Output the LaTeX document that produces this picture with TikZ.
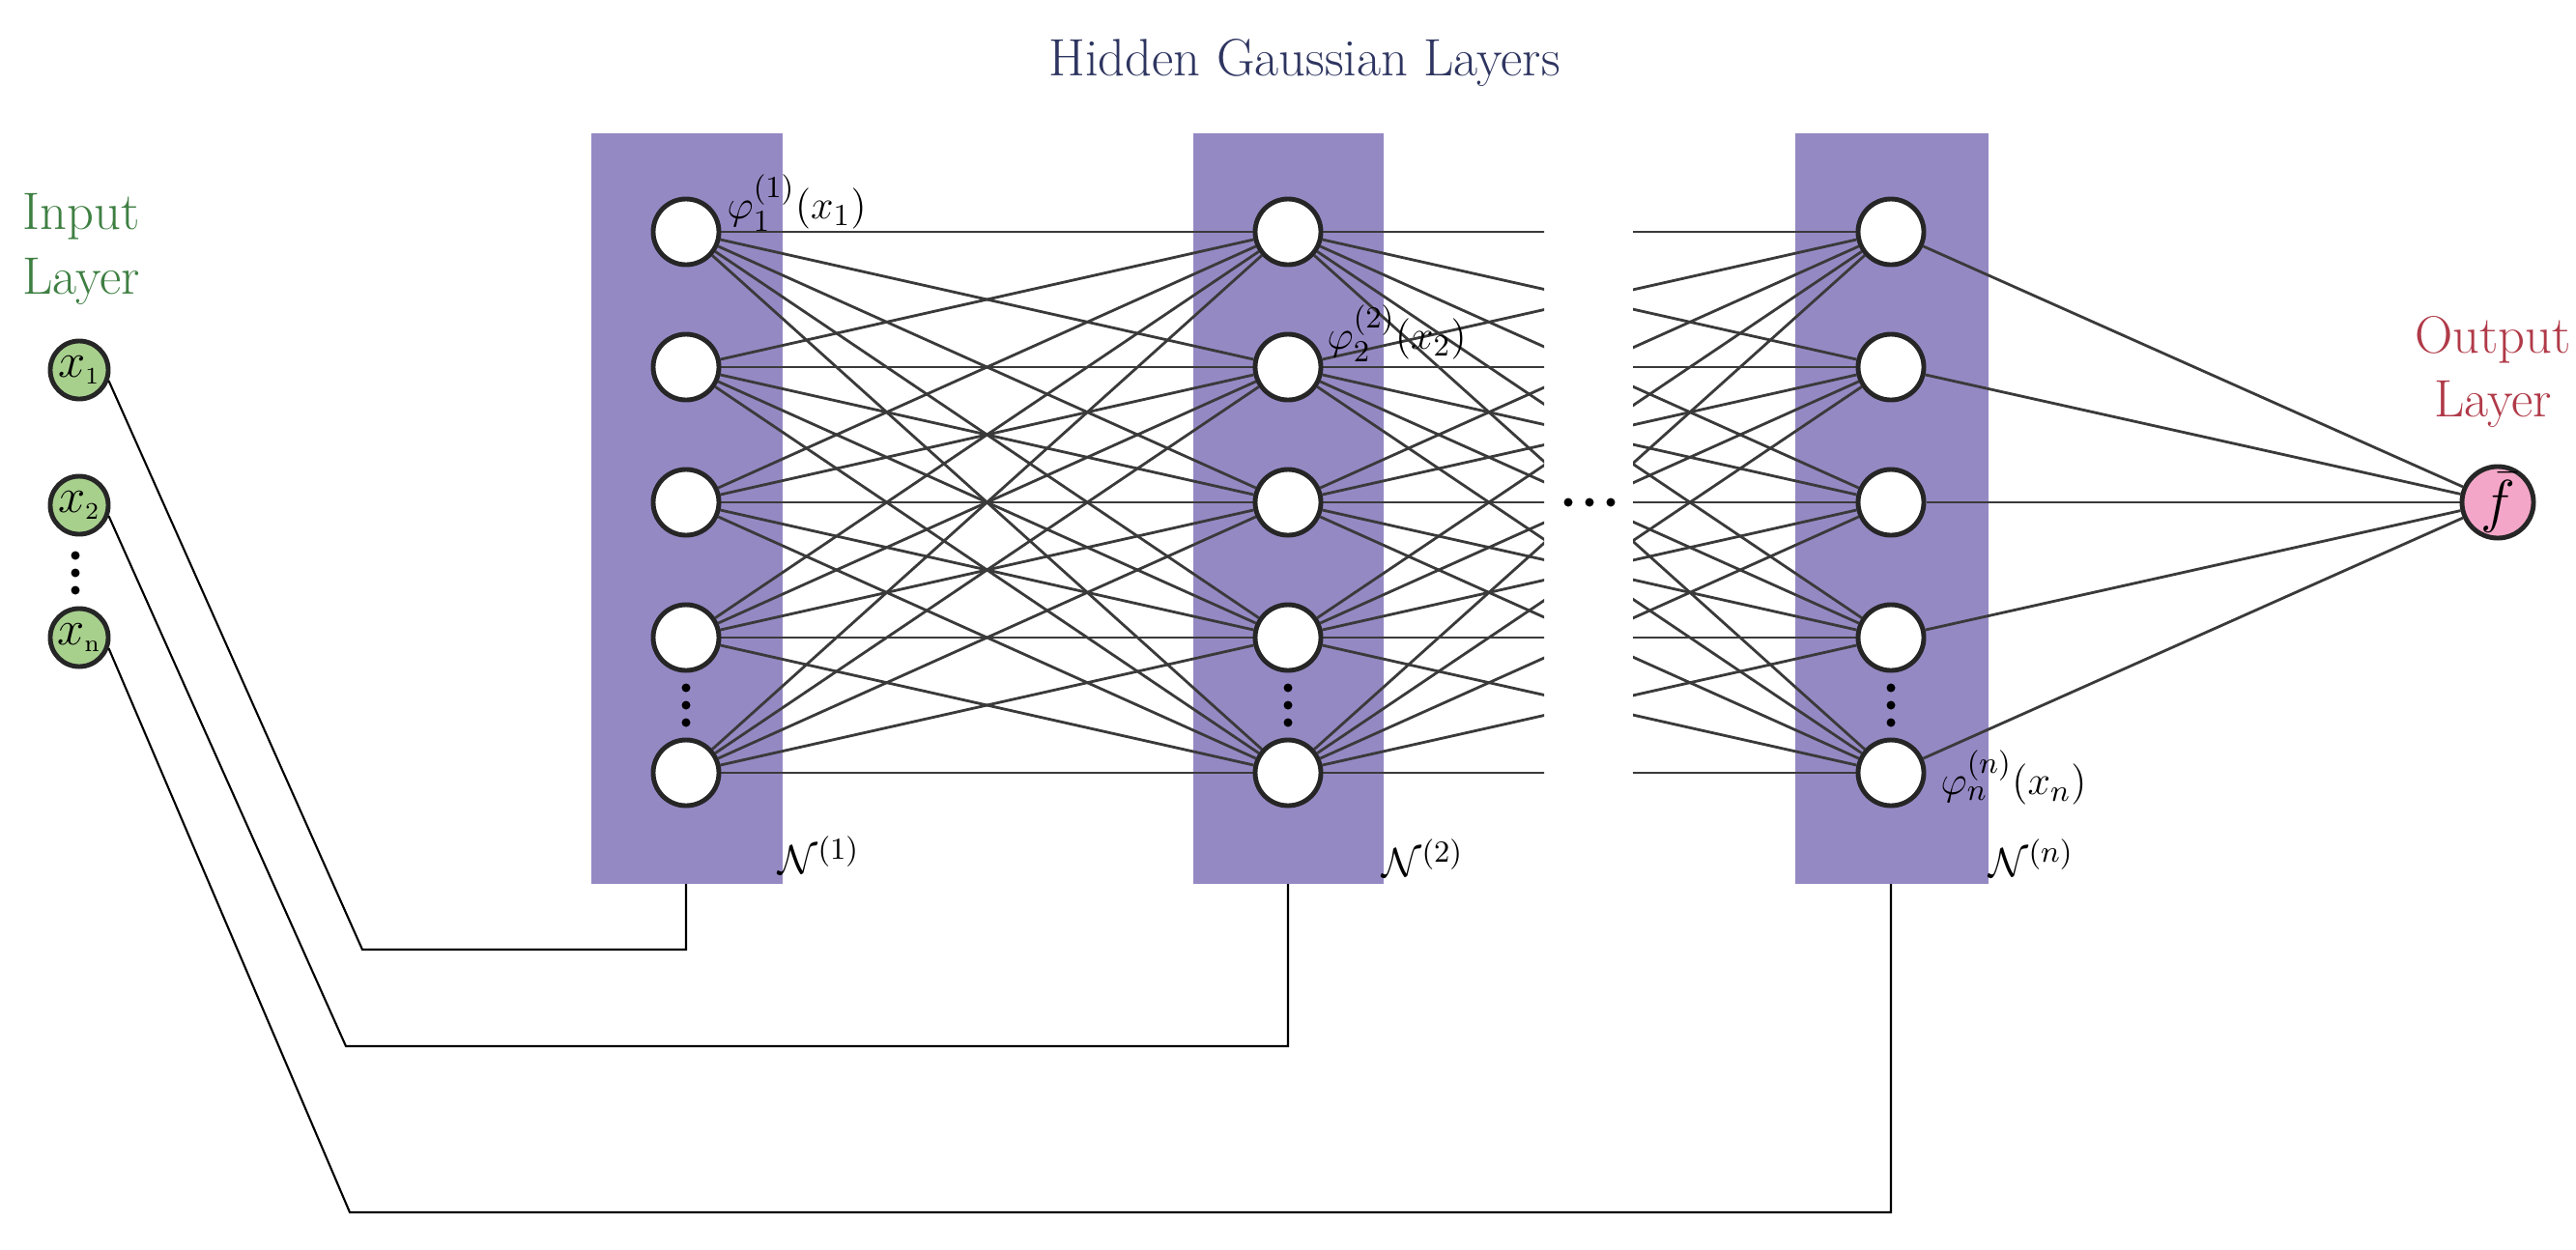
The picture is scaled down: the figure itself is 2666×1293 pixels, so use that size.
\documentclass[tikz,border=0pt]{standalone}
\usepackage{amsmath}
\begin{document}
\pgfdeclarelayer{bg}\pgfdeclarelayer{edges}
\pgfsetlayers{bg,edges,main}
\definecolor{band}{HTML}{9589C4}
\definecolor{ingreen}{HTML}{A8D08D}
\definecolor{ingreentxt}{HTML}{3E7F42}
\definecolor{outpink}{HTML}{F4A6C8}
\definecolor{outred}{HTML}{B03A48}
\definecolor{titleblue}{HTML}{2E3560}
\definecolor{edge}{HTML}{3A3A3A}
\begin{tikzpicture}[x=0.01cm,y=-0.01cm,
  hid/.style={circle,draw=black!85,line width=1.4pt,fill=white,minimum size=0.68cm,inner sep=0pt},
  inp/.style={circle,draw=black!85,line width=1.4pt,fill=ingreen,minimum size=0.6cm,inner sep=0pt,font=\fontsize{14}{14}\selectfont},
  outp/.style={circle,draw=black!85,line width=1.4pt,fill=outpink,minimum size=0.74cm,inner sep=0pt,font=\fontsize{16}{16}\selectfont},
  band/.style={fill=band},
  conn/.style={draw=edge,line width=0.8pt},
  wire/.style={draw=black,line width=0.6pt},
  lbl/.style={font=\fontsize{13}{13}\selectfont,inner sep=0pt},
  ttl/.style={font=\fontsize{15.5}{19}\selectfont,align=center},
  dot/.style={fill=black}]
\useasboundingbox (0,0) rectangle (2666,1293);
% bands
\begin{pgfonlayer}{bg}
\fill[band] (612,138) rectangle (810,915);
\fill[band] (1235,138) rectangle (1432,915);
\fill[band] (1858,138) rectangle (2058,915);
\end{pgfonlayer}
\coordinate (bot1) at (710,915);
\coordinate (bot2) at (1333,915);
\coordinate (bot3) at (1957,915);
% hidden nodes
\foreach \l/\x in {a/710,b/1333,c/1957}{
  \foreach \i/\y in {1/240,2/380,3/520,4/660,5/800}{
    \node[hid] (\l\i) at (\x,\y) {};
  }
}
\foreach \i/\y in {1/240,2/380,3/520,4/660,5/800}{
  \coordinate (vb\i) at (1957,\y);
  \coordinate (vc\i) at (1333,\y);
}
% edges
\begin{pgfonlayer}{edges}
\foreach \i in {1,...,5}{\foreach \j in {1,...,5}{\draw[conn] (a\i) -- (b\j);}}
\begin{scope}
\clip (1300,100) rectangle (1598,900);
\foreach \i in {1,...,5}{\foreach \j in {1,...,5}{\draw[conn] (b\i) -- (vb\j);}}
\end{scope}
\begin{scope}
\clip (1690,100) rectangle (2000,900);
\foreach \i in {1,...,5}{\foreach \j in {1,...,5}{\draw[conn] (vc\i) -- (c\j);}}
\end{scope}
\end{pgfonlayer}
% vertical dots in layers
\foreach \x in {710,1333,1957}{
  \foreach \y in {712,730,748}{\fill[dot] (\x,\y) circle (4.5);}
}
\foreach \x in {1623,1645,1667}{\fill[dot] (\x,520) circle (4.5);}
% input
\node[inp] (x1) at (82,383) {$x_{\scriptscriptstyle 1}$};
\node[inp] (x2) at (82,523) {$x_{\scriptscriptstyle 2}$};
\node[inp] (xn) at (82,660) {$x_{\scriptscriptstyle \mathrm{n}}$};
\foreach \y in {575,593,611}{\fill[dot] (78,\y) circle (4.5);}
\node[ttl,text=ingreentxt] (inlbl) at (84,258) {Input\\Layer};
% output
\node[outp] (f) at (2585,520) {$\bar f$};
\node[ttl,text=outred] (outlbl) at (2580,385) {Output\\Layer};
\node[ttl,text=titleblue] (title) at (1350,65) {Hidden Gaussian Layers};
\begin{pgfonlayer}{edges}
\foreach \i in {1,...,5}{\draw[conn] (c\i) -- (f);}
\end{pgfonlayer}
% input wires
\coordinate (k1) at (375,983);
\coordinate (k2) at (358,1083);
\coordinate (k3) at (362,1255);
\draw[wire] (x1.-20) -- (k1) -| (bot1);
\draw[wire] (x2.-20) -- (k2) -| (bot2);
\draw[wire] (xn.-20) -- (k3) -| (bot3);
% labels
\node[lbl,anchor=west] (p1) at (752,210) {$\varphi_1^{(1)}(x_1)$};
\node[lbl,anchor=west] (p2) at (1373,345) {$\varphi_2^{(2)}(x_2)$};
\node[lbl,anchor=west] (p3) at (2008,805) {$\varphi_n^{(n)}(x_n)$};
\node[lbl,anchor=west] (n1) at (805,885) {$\mathcal{N}^{(1)}$};
\node[lbl,anchor=west] (n2) at (1430,888) {$\mathcal{N}^{(2)}$};
\node[lbl,anchor=west] (n3) at (2058,888) {$\mathcal{N}^{(n)}$};
\end{tikzpicture}
\end{document}
